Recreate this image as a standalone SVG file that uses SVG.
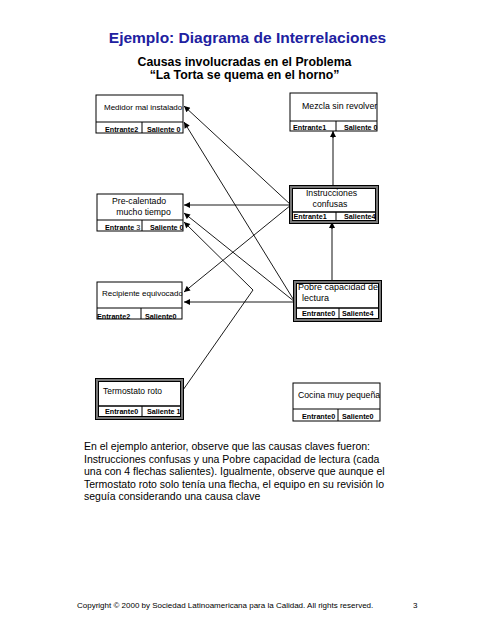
<svg xmlns="http://www.w3.org/2000/svg" width="495" height="640" viewBox="0 0 495 640">
<style>
text{font-family:"Liberation Sans",Arial,sans-serif;fill:#000}
.title{font-size:15.5px;font-weight:bold;fill:#2020a0;text-anchor:middle}
.sub{font-size:12.3px;font-weight:bold;text-anchor:middle}
.lbl{font-size:8.7px}
.cnt{font-size:7.2px;font-weight:bold}
.para{font-size:10.5px}
.foot{font-size:8px}
.box{fill:#fff;stroke:#000;stroke-width:1}
.dbl{fill:#fff;stroke:#777;stroke-width:3}
.dbli{fill:none;stroke:#000;stroke-width:1}
.div{stroke:#000;stroke-width:1}
.cn{fill:none;stroke:#000;stroke-width:0.9}
.cv{fill:none;stroke:#888;stroke-width:2}
</style>
<defs>
<marker id="ah" viewBox="0 0 10 10" refX="10" refY="5" markerUnits="userSpaceOnUse" markerWidth="7" markerHeight="6" orient="auto">
<path d="M0,0 L10,5 L0,10 z" fill="#000"/>
</marker>
<clipPath id="c1"><rect x="96" y="95" width="87" height="38"/></clipPath>
<clipPath id="c2"><rect x="290" y="93" width="87.5" height="38"/></clipPath>
<clipPath id="c3"><rect x="97" y="194" width="86" height="37"/></clipPath>
<clipPath id="c4"><rect x="291" y="187" width="86" height="35"/></clipPath>
<clipPath id="c5"><rect x="95" y="282" width="87.5" height="37"/></clipPath>
<clipPath id="c6"><rect x="295" y="282" width="85" height="38"/></clipPath>
<clipPath id="c7"><rect x="97" y="380" width="85" height="38"/></clipPath>
<clipPath id="c8"><rect x="293" y="383" width="87" height="38"/></clipPath>
</defs>
<rect width="495" height="640" fill="#fff"/>
<text class="title" x="247.5" y="42.5">Ejemplo: Diagrama de Interrelaciones</text>
<text class="sub" x="244.5" y="65.5">Causas involucradas en el Problema</text>
<text class="sub" x="244.5" y="79">“La Torta se quema en el horno”</text>

<g id="connectors">
<line class="cn" x1="291" y1="205" x2="184" y2="106" marker-end="url(#ah)"/>
<line class="cn" x1="291" y1="205" x2="184" y2="205" marker-end="url(#ah)"/>
<line class="cn" x1="291" y1="205" x2="184" y2="292" marker-end="url(#ah)"/>
<line class="cv" x1="333" y1="187" x2="333" y2="137"/>
<path d="M333,138 L333,131" fill="none" stroke="#000" stroke-width="1" marker-end="url(#ah)"/>
<line class="cn" x1="295" y1="302" x2="184" y2="122" marker-end="url(#ah)"/>
<line class="cn" x1="295" y1="302" x2="184" y2="213" marker-end="url(#ah)"/>
<line class="cn" x1="295" y1="302" x2="184" y2="302" marker-end="url(#ah)"/>
<line class="cv" x1="332" y1="282" x2="332" y2="228"/>
<path d="M332,229 L332,222" fill="none" stroke="#000" stroke-width="1" marker-end="url(#ah)"/>
<polyline class="cn" points="183,390 253,290 184,222" marker-end="url(#ah)"/>
</g>

<g id="medidor">
<rect class="box" x="96" y="95" width="87" height="38"/>
<line class="div" x1="96" y1="122" x2="183" y2="122"/>
<line class="div" x1="142" y1="122" x2="142" y2="133"/>
<g clip-path="url(#c1)">
<text class="lbl" style="font-size:8px" x="104" y="109.5">Medidor mal instalado</text>
<text class="cnt" x="105" y="131.5">Entrante2</text>
<text class="cnt" x="147" y="131.5">Saliente 0</text>
</g>
</g>

<g id="mezcla">
<rect class="box" x="290" y="93" width="87" height="38"/>
<line class="div" x1="290" y1="121" x2="377" y2="121"/>
<line class="div" x1="336" y1="121" x2="336" y2="131"/>
<g clip-path="url(#c2)">
<text class="lbl" style="font-size:8.8px" x="302" y="109">Mezcla sin revolver</text>
<text class="cnt" x="293" y="129.5">Entrante1</text>
<text class="cnt" x="344" y="129.5">Saliente 0</text>
</g>
</g>

<g id="precalentado">
<rect class="box" x="97" y="194" width="86" height="37"/>
<line class="div" x1="97" y1="220" x2="183" y2="220"/>
<line class="div" x1="142" y1="220" x2="142" y2="231"/>
<g clip-path="url(#c3)">
<text class="lbl" x="139" y="204" text-anchor="middle">Pre-calentado</text>
<text class="lbl" x="143.5" y="215" text-anchor="middle">mucho tiempo</text>
<text class="cnt" x="105" y="229.5">Entrante <tspan font-weight="normal">3</tspan></text>
<text class="cnt" x="150" y="230">Saliente 0</text>
</g>
</g>

<g id="instrucciones">
<rect class="dbl" x="291" y="187" width="86" height="35"/>
<rect class="dbli" x="289.5" y="185.5" width="89" height="38"/>
<rect class="dbli" x="292.5" y="188.5" width="83" height="32"/>
<line x1="292" y1="212" x2="376" y2="212" stroke="#000" stroke-width="1.6"/>
<line class="div" x1="336" y1="212" x2="336" y2="221"/>
<g clip-path="url(#c4)">
<text class="lbl" x="331.5" y="196" text-anchor="middle">Instrucciones</text>
<text class="lbl" x="330" y="207" text-anchor="middle">confusas</text>
<text class="cnt" x="293.5" y="218.5">Entrante1</text>
<text class="cnt" x="344" y="218.5">Saliente4</text>
</g>
</g>

<g id="recipiente">
<rect class="box" x="97" y="282" width="85" height="37"/>
<line class="div" x1="97" y1="308" x2="182" y2="308"/>
<line class="div" x1="141" y1="308" x2="141" y2="319"/>
<g clip-path="url(#c5)">
<text class="lbl" style="font-size:8px" x="102" y="296">Recipiente equivocado</text>
<text class="cnt" x="97" y="318.5">Entrante2</text>
<text class="cnt" x="145" y="318.5">Saliente0</text>
</g>
</g>

<g id="pobre">
<rect class="dbl" x="295" y="282" width="85" height="38"/>
<rect class="dbli" x="293.5" y="280.5" width="88" height="41"/>
<rect class="dbli" x="296.5" y="283.5" width="82" height="35"/>
<line x1="296" y1="308" x2="379" y2="308" stroke="#000" stroke-width="1.6"/>
<line class="div" x1="339" y1="308" x2="339" y2="319"/>
<g clip-path="url(#c6)">
<text class="lbl" style="font-size:9px" x="298" y="289.5">Pobre capacidad de</text>
<text class="lbl" style="font-size:9px" x="302" y="300.5">lectura</text>
<text class="cnt" x="302" y="316">Entrante0</text>
<text class="cnt" x="342" y="316">Saliente4</text>
</g>
</g>

<g id="termostato">
<rect class="dbl" x="97" y="380" width="85" height="38"/>
<rect class="dbli" x="95.5" y="378.5" width="88" height="41"/>
<rect class="dbli" x="98.5" y="381.5" width="82" height="35"/>
<line x1="98" y1="406" x2="181" y2="406" stroke="#000" stroke-width="1.6"/>
<line class="div" x1="142" y1="406" x2="142" y2="417"/>
<g clip-path="url(#c7)">
<text class="lbl" style="font-size:8.5px" x="103" y="394">Termostato roto</text>
<text class="cnt" x="105" y="414">Entrante0</text>
<text class="cnt" x="147" y="414">Saliente 1</text>
</g>
</g>

<g id="cocina">
<rect class="box" x="293" y="383" width="87" height="38"/>
<line class="div" x1="293" y1="409" x2="380" y2="409"/>
<line class="div" x1="338" y1="409" x2="338" y2="421"/>
<g clip-path="url(#c8)">
<text class="lbl" style="font-size:8.7px" x="298" y="398">Cocina muy pequeña</text>
<text class="cnt" x="302" y="418.5">Entrante0</text>
<text class="cnt" x="342" y="418.5">Saliente0</text>
</g>
</g>

<text class="para" x="84" y="450">En el ejemplo anterior, observe que las causas claves fueron:</text>
<text class="para" x="84" y="462.5">Instrucciones confusas y una Pobre capacidad de lectura (cada</text>
<text class="para" x="84" y="475">una con 4 flechas salientes). Igualmente, observe que aunque el</text>
<text class="para" x="84" y="487.5">Termostato roto solo tenía una flecha, el equipo en su revisión lo</text>
<text class="para" x="84" y="500">seguía considerando una causa clave</text>

<text class="foot" x="77" y="608">Copyright © 2000 by Sociedad Latinoamericana para la Calidad. All rights reserved.</text>
<text class="foot" x="413" y="608">3</text>
</svg>
